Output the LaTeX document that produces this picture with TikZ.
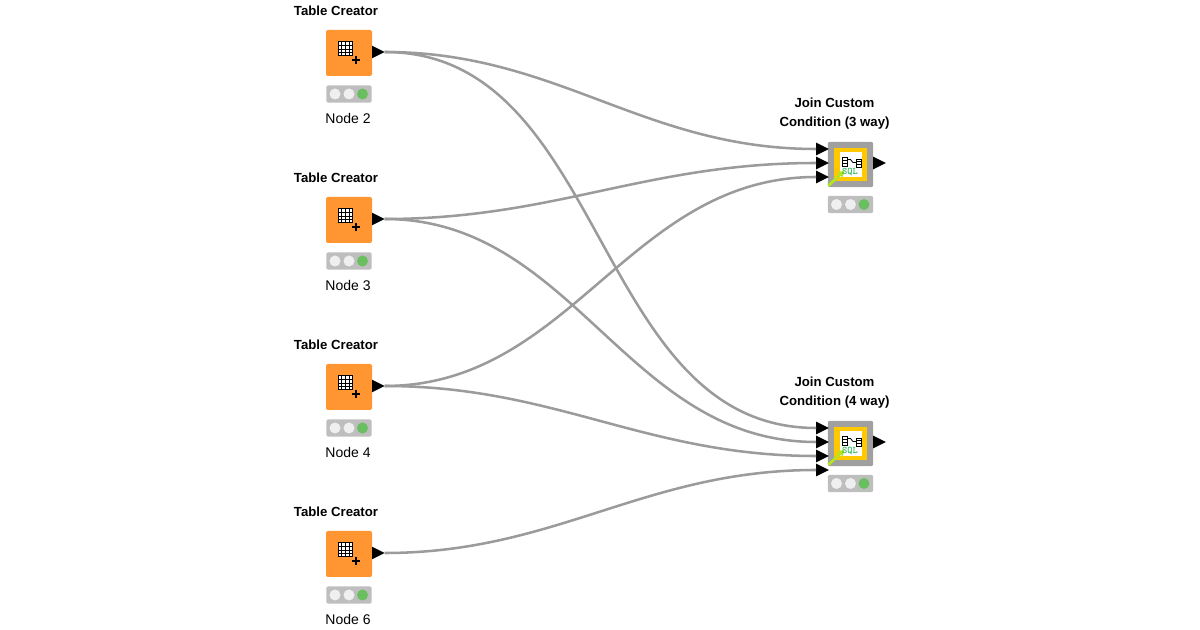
\documentclass[tikz,border=0pt]{standalone}
\usepackage{fontspec}
\setmainfont{Liberation Sans}
\usetikzlibrary{positioning,shapes.geometric}

\definecolor{creatorfill}{HTML}{FF9632}
\definecolor{joinfill}{HTML}{A0A0A0}
\definecolor{joinring}{HTML}{FFC800}
\definecolor{statusfill}{HTML}{BEBEBE}
\definecolor{lightoff}{HTML}{EFEFEF}
\definecolor{lighton}{HTML}{69BE5F}
\definecolor{linkgray}{HTML}{9B9B9B}
\definecolor{sqlgreen}{HTML}{2DB85A}
\definecolor{arrowgreen}{HTML}{B5E61D}

\begin{document}
\begin{tikzpicture}[x=0.75pt,y=-0.75pt,node distance=90.75pt,
	creator/.style={
		% The shape:
		rectangle,
		rounded corners=1.5pt,
		minimum size=34.5pt,
		inner sep=0pt,
		outer sep=0pt,
		fill=creatorfill,
		% The icon: a small table and a plus
		path picture={
			\begin{scope}[sharp corners,shift={(path picture bounding box.center)}]
				\fill[white] (-11,-11) rectangle (3.5,3);
				\draw[black,line width=0.6pt] (-7.4,-11) -- (-7.4,3) (-3.75,-11) -- (-3.75,3) (-0.1,-11) -- (-0.1,3);
				\draw[black,line width=0.6pt] (-11,-7.5) -- (3.5,-7.5) (-11,-4) -- (3.5,-4) (-11,-0.5) -- (3.5,-0.5);
				\draw[black,line width=0.75pt] (-11,-11) rectangle (3.5,3);
				\draw[black,line width=2.2pt] (3,7) -- (11,7) (7,3) -- (7,11);
			\end{scope}
		}
		},
	joiner/.style={
		rectangle,
		rounded corners=1.5pt,
		minimum size=34pt,
		inner sep=0pt,
		outer sep=0pt,
		fill=joinfill,
		path picture={
			\begin{scope}[sharp corners,shift={(path picture bounding box.center)}]
				\fill[joinring] (-16.5,-16.5) rectangle (16.5,17);
				\fill[white] (-10.5,-12) rectangle (11.5,12.5);
				% two small tables joined by a line
				\draw[black,line width=0.6pt] (-8,-7.5) rectangle (-3,1.5) (-8,-4.5) -- (-3,-4.5) (-8,-1.5) -- (-3,-1.5);
				\draw[black,line width=0.6pt] (5.5,-5.5) rectangle (11,2.5) (5.5,-2.8) -- (11,-2.8) (5.5,0) -- (11,0);
				\draw[black,line width=0.6pt] (-3,-5) -- (0,-5) -- (2.5,-2) -- (5.5,-2);
				% the arrow in the corner
				\draw[arrowgreen,line width=2pt] (-23,22) -- (-9,9);
				\fill[arrowgreen] (-6,6) -- (-13,8) -- (-8,13) -- cycle;
			\end{scope}
		}
		},
	status/.style={
		rectangle,
		rounded corners=1.5pt,
		minimum width=34pt,
		minimum height=13pt,
		inner sep=0pt,
		outer sep=0pt,
		fill=statusfill,
		% Three lights, the last one is on
		path picture={
			\begin{scope}[sharp corners,shift={(path picture bounding box.center)}]
				\fill[lightoff] (-14,0) circle (5.5);
				\fill[lightoff] (0,0) circle (5.5);
				\fill[lighton] (13.5,0) circle (5.5);
			\end{scope}
		}
		},
	outport/.style={
		isosceles triangle,
		isosceles triangle stretches,
		minimum width=9.5pt,
		minimum height=9.5pt,
		inner sep=0pt,
		outer sep=0pt,
		fill=black
		},
	inport/.style={outport},
	nodetitle/.style={font=\bfseries\fontsize{9.9pt}{14.25pt}\selectfont,align=center,inner sep=0pt},
	nodename/.style={font=\fontsize{10.5pt}{13pt}\selectfont,inner sep=0pt},
	sqllabel/.style={font=\ttfamily\bfseries\fontsize{7.5pt}{7.5pt}\selectfont,text=sqlgreen,inner sep=0pt},
	link/.style={draw=linkgray,line width=1.9pt,out=0,in=180}]

	\useasboundingbox (0,0) rectangle (1200,630);

	\node (creator2) [creator] at (349,53) {};
	\node (creator3) [creator,below=of creator2] {};
	\node (creator4) [creator,below=of creator3] {};
	\node (creator6) [creator,below=of creator4] {};

	\node (join3) [joiner] at (850.5,164.5) {};
	\node (join4) [joiner] at (850.5,443.5) {};

	\node (title2) [nodetitle,above=10.5pt of creator2,xshift=-9.75pt] {Table Creator};
	\node (title3) [nodetitle,above=10.5pt of creator3,xshift=-9.75pt] {Table Creator};
	\node (title4) [nodetitle,above=10.5pt of creator4,xshift=-9.75pt] {Table Creator};
	\node (title6) [nodetitle,above=10.5pt of creator6,xshift=-9.75pt] {Table Creator};
	\node (titlejoin3) [nodetitle,above=9pt of join3,xshift=-12pt] {Join Custom\\Condition (3 way)};
	\node (titlejoin4) [nodetitle,above=9pt of join4,xshift=-12pt] {Join Custom\\Condition (4 way)};

	\node (status2) [status,below=7pt of creator2] {};
	\node (status3) [status,below=7pt of creator3] {};
	\node (status4) [status,below=7pt of creator4] {};
	\node (status6) [status,below=7pt of creator6] {};
	\node (statusjoin3) [status,below=6.5pt of join3] {};
	\node (statusjoin4) [status,below=6.5pt of join4] {};

	\node (name2) [nodename,below=7.75pt of status2,xshift=-0.75pt] {Node 2};
	\node (name3) [nodename,below=7.75pt of status3,xshift=-0.75pt] {Node 3};
	\node (name4) [nodename,below=7.75pt of status4,xshift=-0.75pt] {Node 4};
	\node (name6) [nodename,below=7.75pt of status6,xshift=-0.75pt] {Node 6};

	\node (sql3) [sqllabel] at (850,172) {SQL};
	\node (sql4) [sqllabel] at (850,451) {SQL};

	\node (out2) [outport,right=0pt of creator2,yshift=0.75pt] {};
	\node (out3) [outport,right=0pt of creator3,yshift=0.75pt] {};
	\node (out4) [outport,right=0pt of creator4,yshift=0.75pt] {};
	\node (out6) [outport,right=0pt of creator6,yshift=0.75pt] {};
	\node (outjoin3) [outport] at (877,163) {};
	\node (outjoin4) [outport] at (877,442) {};

	\node (in31) [inport] at (820,149) {};
	\node (in32) [inport] at (820,163) {};
	\node (in33) [inport] at (820,177) {};
	\node (in41) [inport] at (820,428) {};
	\node (in42) [inport] at (820,442) {};
	\node (in43) [inport] at (820,456) {};
	\node (in44) [inport] at (820,470) {};

	\path (out2) edge[link] (in31);
	\path (out2) edge[link] (in41);
	\path (out3) edge[link] (in32);
	\path (out3) edge[link] (in42);
	\path (out4) edge[link] (in33);
	\path (out4) edge[link] (in43);
	\path (out6) edge[link] (in44);

\end{tikzpicture}
\end{document}
